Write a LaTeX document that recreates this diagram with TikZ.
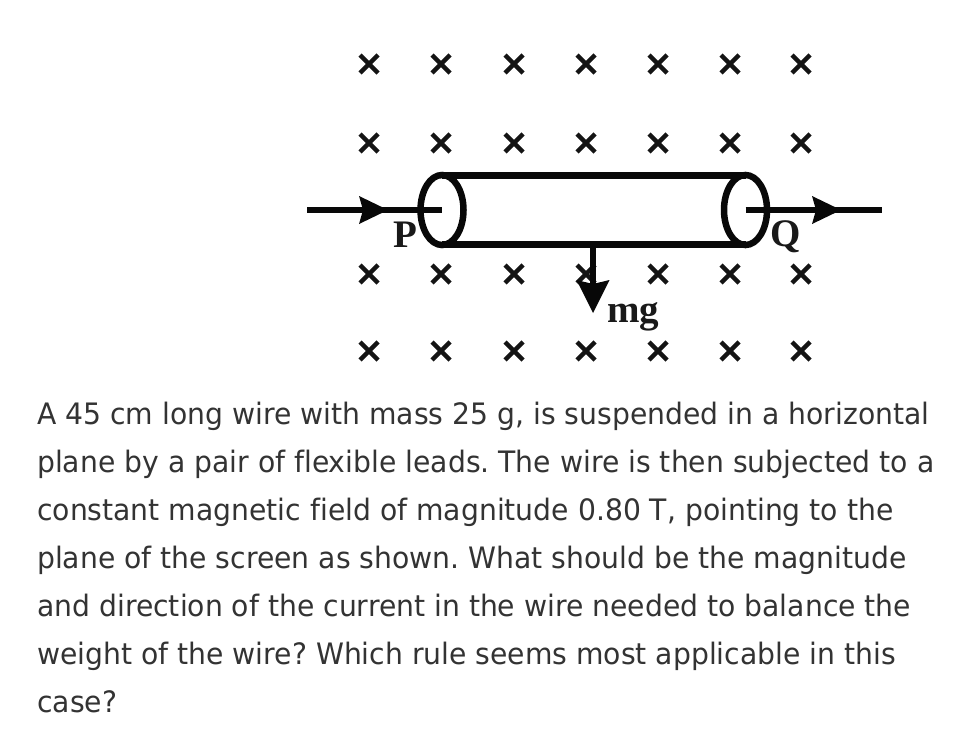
\documentclass[tikz,border=0pt]{standalone}
\usepackage{fontspec}
\setmainfont[FakeStretch=0.957,Ligatures=NoCommon]{DejaVu Sans}
\newfontfamily\labelfont{Liberation Serif}
\tikzset{
  line/.style={line width=6.5pt,black!97},
  head/.style={fill=black!97,draw=none},
  crossmark/.style={line width=4.4pt,black!92},
  para/.style={anchor=base west,inner sep=0pt,text=black!80,font=\fontsize{29.5}{30}\selectfont\frenchspacing},
  lab/.style={inner sep=0pt,text=black!90,font=\labelfont\bfseries\fontsize{39}{39}\selectfont},
}
\begin{document}
\begin{tikzpicture}[x=1pt,y=-1pt]
\useasboundingbox (0,0) rectangle (968,752);
\fill[white] (0,0) rectangle (968,752);
% field crosses
\foreach \r/\y in {a/64,b/143,c/274,d/351}{
  \foreach \n/\x in {1/369,2/441,3/514,4/586,5/658,6/730,7/801}{
    \coordinate (\r\n) at (\x,\y);
    \draw[crossmark] ([shift={(-9,-9)}]\r\n) -- ([shift={(9,9)}]\r\n);
    \draw[crossmark] ([shift={(-9,9)}]\r\n) -- ([shift={(9,-9)}]\r\n);
  }
}
% wire cylinder
\coordinate (L) at (442,210);
\coordinate (R) at (745.5,210);
\coordinate (W0) at (307,210);
\coordinate (W1) at (882,210);
\coordinate (WA) at (388,210);
\coordinate (WB) at (841,210);
\draw[line] (L) ellipse (21.5 and 35);
\draw[line] (R) ellipse (21.5 and 35);
\draw[line] (442,175.5) -- (745.5,175.5);
\draw[line] (442,244.5) -- (745.5,244.5);
\draw[line] (W0) -- (L);
\draw[line] (R) -- (W1);
\fill[head] (WA) -- ++(-29,-14) -- ++(4,14) -- ++(-4,14) -- cycle;
\fill[head] (WB) -- ++(-29,-14) -- ++(4,14) -- ++(-4,14) -- cycle;
% weight
\coordinate (G0) at (593,244);
\coordinate (G1) at (593,313);
\draw[line] (G0) -- ([yshift=10pt]G1);
\fill[head] (G1) -- ++(-16.5,-33) -- ++(16.5,4) -- ++(16.5,-4) -- cycle;
\node[lab] (P) at (405,235) {P};
\node[lab] (Q) at (786,237) {Q};
\node[lab,anchor=base] (mg) at (633,322) {mg};
% text
\node[para] (t1) at (37,424) {A 45 cm long wire with mass 25 g, is suspended in a horizontal};
\node[para] (t2) at (37,472) {plane by a pair of flexible leads. The wire is then subjected to a};
\node[para] (t3) at (37,520) {constant magnetic field of magnitude 0.80 T, pointing to the};
\node[para] (t4) at (37,568) {plane of the screen as shown. What should be the magnitude};
\node[para] (t5) at (37,616) {and direction of the current in the wire needed to balance the};
\node[para] (t6) at (37,664) {weight of the wire? Which rule seems most applicable in this};
\node[para] (t7) at (37,712) {case?};
\end{tikzpicture}
\end{document}
